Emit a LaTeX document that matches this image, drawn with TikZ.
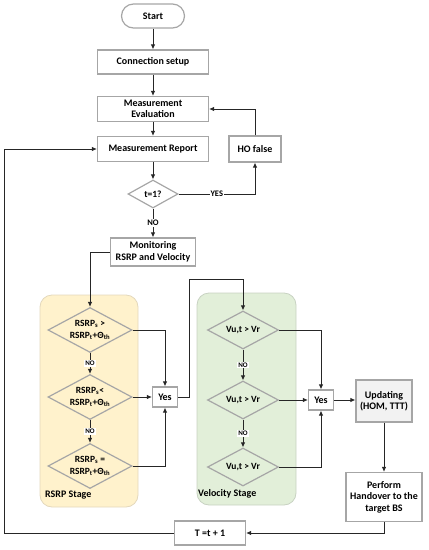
\documentclass[tikz,border=0pt]{standalone}
\usepackage{fontspec}
\setmainfont{Carlito}
\usetikzlibrary{shapes.geometric,arrows.meta}
\newcommand{\figwidth}{429}
\newcommand{\figheight}{550}
\newcommand{\rsrpthr}{RSRP\textsubscript{t}+Θ\textsubscript{th}}
\definecolor{linecol}{HTML}{262626}
\definecolor{boxline}{HTML}{A6A6A6}
\definecolor{rsrpbg}{HTML}{FFF2CC}
\definecolor{rsrpline}{HTML}{E3D8BC}
\definecolor{velobg}{HTML}{E2EFD9}
\definecolor{veloline}{HTML}{C8D2C2}
\definecolor{updbg}{HTML}{F2F2F2}

\tikzset{
  procbox/.style={draw=boxline, line width=1.2pt, fill=white, inner sep=1pt, align=center,
    font=\bfseries\fontsize{10}{11.5}\selectfont},
  termbox/.style={procbox, rounded corners=12pt},
  decision/.style={diamond, draw=boxline, line width=1.2pt, inner sep=-3pt, aspect=2, align=center,
    font=\bfseries\fontsize{9.5}{12}\selectfont},
  flow/.style={draw=linecol, line width=0.9pt, -{Latex[length=5pt,width=4.5pt]}},
  nolabel/.style={fill=white, inner sep=1pt, font=\bfseries\fontsize{7}{8}\selectfont},
  bignolabel/.style={nolabel, font=\bfseries\fontsize{8.5}{9}\selectfont},
  yeslabel/.style={fill=white, inner sep=1pt, font=\bfseries\fontsize{8.5}{9}\selectfont},
  stagelabel/.style={anchor=west, inner sep=0pt, font=\bfseries\fontsize{10}{11.5}\selectfont},
}

\begin{document}
\begin{tikzpicture}[x=1pt, y=-1pt]
  \useasboundingbox (0,0) rectangle (\figwidth, \figheight);

  % === STAGE BACKGROUNDS ===
  \filldraw[fill=rsrpbg, draw=rsrpline, line width=0.8pt, rounded corners=12pt] (40,295) rectangle (138,507);
  \filldraw[fill=velobg, draw=veloline, line width=0.8pt, rounded corners=12pt] (197,293) rectangle (296,505);
  \node[stagelabel] (rsrplbl) at (45,495) {RSRP Stage};
  \node[stagelabel] (velolbl) at (198,494) {Velocity Stage};

  % === MAIN COLUMN ===
  \node[termbox, minimum width=63pt, minimum height=24pt] (start) at (153,16) {Start};
  \node[procbox, minimum width=111pt, minimum height=24pt] (conn) at (153,62) {Connection setup};
  \node[procbox, minimum width=111pt, minimum height=25pt] (eval) at (153,109) {Measurement\\Evaluation};
  \node[procbox, minimum width=111pt, minimum height=25pt] (report) at (153,149) {Measurement Report};
  \node[procbox, minimum width=52pt, minimum height=26pt] (hof) at (255,149) {HO false};
  \node[decision, minimum width=50pt, minimum height=28pt] (t1) at (153,194) {t=1?};
  \node[procbox, minimum width=85pt, minimum height=28pt] (mon) at (153,252) {Monitoring\\RSRP and Velocity};

  % === RSRP STAGE ===
  \node[decision, minimum width=84pt, minimum height=45pt] (r1) at (90,330) {RSRP\textsubscript{s} >\\\rsrpthr};
  \node[decision, minimum width=84pt, minimum height=45pt] (r2) at (90,397) {RSRP\textsubscript{s}<\\\rsrpthr};
  \node[decision, minimum width=84pt, minimum height=45pt] (r3) at (90,466) {RSRP\textsubscript{s} =\\\rsrpthr};
  \node[procbox, minimum width=25pt, minimum height=20pt] (yesA) at (165,397) {Yes};

  % === VELOCITY STAGE ===
  \node[decision, minimum width=71pt, minimum height=38pt] (v1) at (243,330) {Vu,t > Vr};
  \node[decision, minimum width=71pt, minimum height=38pt] (v2) at (243,400) {Vu,t > Vr};
  \node[decision, minimum width=71pt, minimum height=38pt] (v3) at (243,467) {Vu,t > Vr};
  \node[procbox, minimum width=25pt, minimum height=20pt] (yesB) at (321,400) {Yes};

  % === HANDOVER ===
  \node[procbox, fill=updbg, minimum width=56pt, minimum height=42pt] (upd) at (384,401) {Updating\\(HOM, TTT)};
  \node[procbox, minimum width=76pt, minimum height=49pt] (hand) at (384,497) {Perform\\Handover to the\\target BS};
  \node[procbox, minimum width=71pt, minimum height=24pt] (tnode) at (210,533) {T =t + 1};

  \coordinate (jog) at (189,279);
  \coordinate (rim) at (4,149);

  % === CONNECTORS ===
  \draw[flow] (start) -- (conn);
  \draw[flow] (conn) -- (eval);
  \draw[flow] (eval) -- (report);
  \draw[flow] (report) -- (t1);
  \draw[flow] (t1.east) -- node[yeslabel] {YES} (t1.east -| hof.south) -- (hof.south);
  \draw[flow] (hof.north) |- (eval.east);
  \draw[flow] (t1.south) -- node[bignolabel] {NO} (mon.north);
  \draw[flow] (mon.west) -| (r1.north);

  \draw[flow] (r1.south) -- node[nolabel] {NO} (r2.north);
  \draw[flow] (r2.south) -- node[nolabel] {NO} (r3.north);
  \draw[flow] (r1.east) -| (yesA.north);
  \draw[flow] (r2.east) -- (yesA.west);
  \draw[flow] (r3.east) -| (yesA.south);
  \draw[flow] (yesA.east) -| (jog) -| (v1.north);

  \draw[flow] (v1.south) -- node[nolabel] {NO} (v2.north);
  \draw[flow] (v2.south) -- node[nolabel] {NO} (v3.north);
  \draw[flow] (v1.east) -| (yesB.north);
  \draw[flow] (v2.east) -- (yesB.west);
  \draw[flow] (v3.east) -| (yesB.south);
  \draw[flow] (yesB.east) -- (yesB.east -| upd.west);

  \draw[flow] (upd.south) -- (hand.north);
  \draw[flow] (hand.south) |- (tnode.east);
  \draw[flow] (tnode.west) -| (rim) -- (report.west);
\end{tikzpicture}
\end{document}
